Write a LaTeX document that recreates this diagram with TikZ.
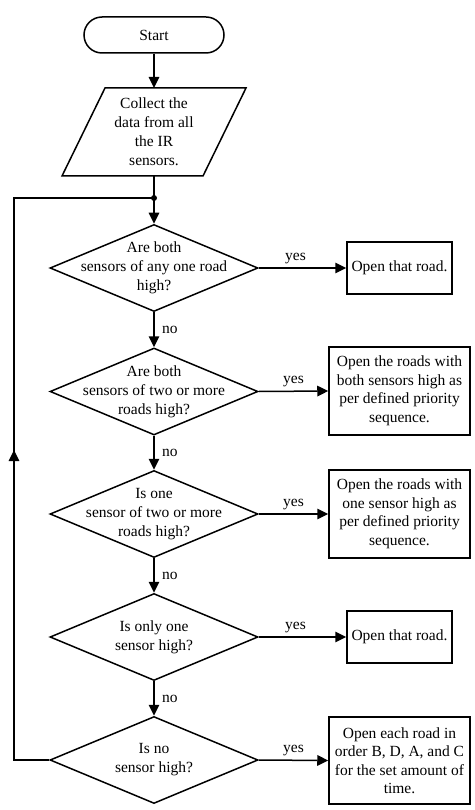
\documentclass[tikz,border=0pt]{standalone}
\usepackage{fontspec}
\setmainfont{Liberation Serif}
\usetikzlibrary{shapes.geometric,arrows.meta}
\begin{document}
\begin{tikzpicture}[x=1pt,y=-1pt,
  font=\fontsize{15.5}{19}\selectfont,
  line width=1.5pt,
  arr/.style={-{Triangle[length=11pt,width=10.5pt]}},
  dec/.style={draw, diamond, minimum width=208pt, minimum height=87pt, inner sep=0pt},
  dtext/.style={align=center, inner sep=0pt},
  box/.style={draw, rectangle, align=center, inner sep=0pt, font=\fontsize{15.5}{18.5}\selectfont},
  smallbox/.style={box, minimum width=105pt, minimum height=52pt},
  bigbox/.style={box, minimum width=141pt, minimum height=88pt}
]
\useasboundingbox (0,0) rectangle (474,810);

\node[draw, rounded corners=18pt, minimum width=140pt, minimum height=36pt, inner sep=0pt] (start) at (154,35) {Start};

% input/output parallelogram
\node[align=center, inner sep=0pt] (io) at (154,132) {Collect the\\data from all\\the IR\\sensors.};
\coordinate (iotl) at (105,88);
\coordinate (iotr) at (246,88);
\coordinate (iobr) at (203,176);
\coordinate (iobl) at (62,176);
\coordinate (iot) at (154,88);
\coordinate (iob) at (154,176);
\draw (iotl) -- (iotr) -- (iobr) -- (iobl) -- cycle;

\node[circle, fill, inner sep=0pt, minimum size=6pt] (jn) at (154,198) {};

\node[dec] (d1) at (154,268) {};
\node[dtext] at (d1) {Are both\\sensors of any one road\\high?};
\node[dec] (d2) at (154,391.5) {};
\node[dtext] at (d2) {Are both\\sensors of two or more\\roads high?};
\node[dec] (d3) at (154,514) {};
\node[dtext] at (d3) {Is one\\sensor of two or more\\roads high?};
\node[dec] (d4) at (154,637) {};
\node[dtext] at (d4) {Is only one\\sensor high?};
\node[dec] (d5) at (154,760) {};
\node[dtext] at (d5) {Is no\\sensor high?};

\node[smallbox] (b1) at (399.5,268) {Open that road.};
\node[bigbox] (b2) at (399.5,391) {Open the roads with\\both sensors high as\\per defined priority\\sequence.};
\node[bigbox] (b3) at (399.5,514) {Open the roads with\\one sensor high as\\per defined priority\\sequence.};
\node[smallbox] (b4) at (399.5,637) {Open that road.};
\node[bigbox, minimum height=87pt] (b5) at (399.5,760.5) {Open each road in\\order B, D, A, and C\\for the set amount of\\time.};

\draw[arr] (start.south) -- (iot);
\draw (iob) -- (jn.center);
\draw[arr] (jn.center) -- (d1.north);

\draw[arr] (d1.south) -- node[right=4pt]{no} (d2.north);
\draw[arr] (d2.south) -- node[right=4pt]{no} (d3.north);
\draw[arr] (d3.south) -- node[right=4pt]{no} (d4.north);
\draw[arr] (d4.south) -- node[right=4pt]{no} (d5.north);

\draw[arr] (d1.east) -- node[above, xshift=-7pt]{yes} (b1.west);
\draw[arr] (d2.east) -- node[above]{yes} (b2.west);
\draw[arr] (d3.east) -- node[above]{yes} (b3.west);
\draw[arr] (d4.east) -- node[above, xshift=-7pt]{yes} (b4.west);
\draw[arr] (d5.east) -- node[above]{yes} (b5.west);

\coordinate (lb) at (14,760);
\coordinate (la) at (14,450);
\coordinate (lt) at (14,198);
\draw (d5.west) -- (lb) -- (lt) -- (jn.center);
\draw[arr] (lb) -- (la);
\end{tikzpicture}
\end{document}
